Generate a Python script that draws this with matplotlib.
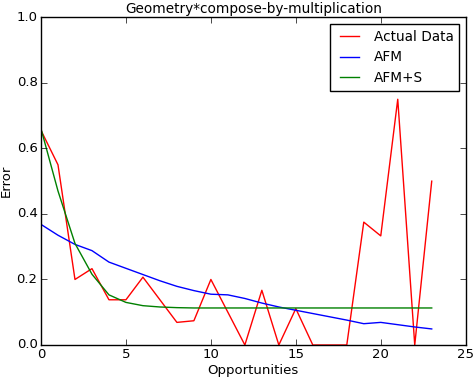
import numpy as np
from matplotlib import pyplot as plt

plt.style.use('classic')
plt.rcParams['figure.facecolor'] = 'white'
plt.rcParams['savefig.facecolor'] = 'white'
plt.rcParams['font.size'] = 9.5

# values
opportunities = np.arange(24)
actual = [0.655, 0.55, 0.2, 0.233, 0.138, 0.138, 0.207, 0.138, 0.069, 0.074,
          0.2, 0.1, 0.0, 0.167, 0.0, 0.111, 0.0, 0.0, 0.0, 0.375,
          0.333, 0.75, 0.0, 0.5]
afm = [0.368, 0.335, 0.307, 0.288, 0.253, 0.234, 0.215, 0.196, 0.179, 0.166,
       0.155, 0.153, 0.142, 0.128, 0.116, 0.106, 0.096, 0.086, 0.076, 0.065,
       0.069, 0.062, 0.055, 0.049]
afm_s = [0.66, 0.47, 0.31, 0.216, 0.153, 0.13, 0.12, 0.116, 0.114, 0.113,
         0.113, 0.113, 0.113, 0.113, 0.113, 0.113, 0.113, 0.113, 0.113, 0.113,
         0.113, 0.113, 0.113, 0.113]

fig = plt.figure(figsize=(4.74, 3.81), dpi=100)
ax = fig.add_axes([0.0865, 0.0945, 0.896, 0.86])

ax.plot(opportunities, actual, color='r', label='Actual Data')
ax.plot(opportunities, afm, color='b', label='AFM')
ax.plot(opportunities, afm_s, color='g', label='AFM+S')

ax.set_xlim(0, 25)
ax.set_ylim(0, 1)
ax.tick_params(pad=2.5)
ax.set_title('Geometry*compose-by-multiplication', fontsize=9.8, pad=3)
ax.set_xlabel('Opportunities', labelpad=1.5)
ax.set_ylabel('Error', labelpad=3)
ax.legend(loc='upper right', fontsize=9.8)

fig.savefig('out.png', dpi=100)
